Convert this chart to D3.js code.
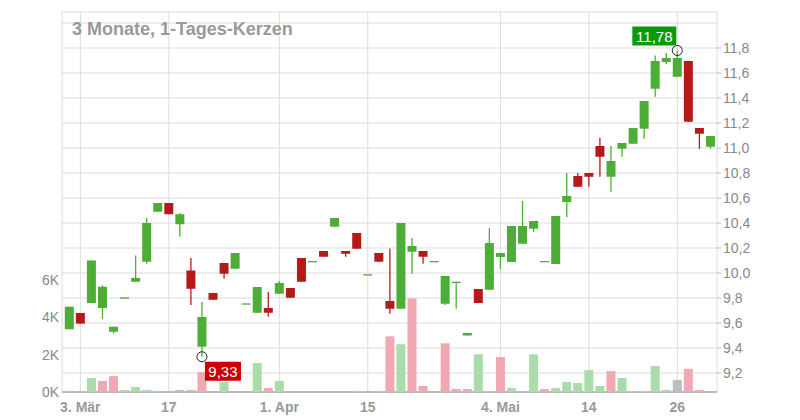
<!DOCTYPE html>
<html><head><meta charset="utf-8">
<script src="https://cdn.jsdelivr.net/npm/d3@7"></script>
<style>body{margin:0;background:#fff;font-family:"Liberation Sans",Arial,sans-serif}</style>
</head><body><div class="chart"></div>
<script>
// daily candles, index = trading day
var opens  = [9.55,9.68,9.76,9.72,9.53,9.805,9.93,10.09,10.49,10.56,10.39,10.02,9.41,9.84,10.08,10.034,9.757,9.682,9.72,9.834,9.88,10.12,10.096,10.176,10.37,10.176,10.32,9.99,10.16,
              9.776,9.714,10.17,10.176,10.096,9.754,9.92,9.50,9.872,9.866,10.128,10.088,10.234,10.354,10.096,10.072,10.568,10.776,10.8,11.016,10.77,10.994,11.034,11.154,11.474,11.688,11.57,11.696,11.16,11.01];
var closes = [9.73,9.595,10.10,9.89,9.57,9.805,9.96,10.40,10.56,10.47,10.47,9.874,9.648,9.786,9.994,10.16,9.757,9.888,9.682,9.92,9.802,9.93,10.096,10.13,10.44,10.154,10.194,9.99,10.09,
              9.714,10.40,10.216,10.13,10.096,9.976,9.93,9.52,9.76,10.24,10.16,10.376,10.376,10.416,10.096,10.456,10.616,10.69,10.77,10.93,10.896,11.04,11.16,11.376,11.696,11.72,11.72,11.21,11.114,11.096];
var highs  = [9.73,9.68,10.10,9.90,9.57,9.805,10.14,10.44,10.56,10.56,10.48,10.12,9.768,9.84,10.08,10.16,9.757,9.888,9.848,9.936,9.88,10.12,10.096,10.176,10.44,10.176,10.32,9.99,10.16,
              10.197,10.40,10.28,10.176,10.096,9.976,9.93,9.52,9.872,10.36,10.16,10.376,10.576,10.416,10.096,10.456,10.80,10.80,10.80,11.08,11.016,11.04,11.16,11.376,11.74,11.76,11.78,11.696,11.16,11.096];
var lows   = [9.55,9.595,9.76,9.63,9.515,9.805,9.93,10.074,10.49,10.47,10.29,9.744,9.33,9.786,9.954,10.034,9.757,9.682,9.65,9.834,9.802,9.93,10.096,10.13,10.37,10.13,10.194,9.99,10.09,
              9.674,9.714,9.994,10.074,10.096,9.744,9.714,9.50,9.76,9.866,10.032,10.088,10.234,10.328,10.096,10.072,10.448,10.69,10.69,10.77,10.65,10.93,11.034,11.074,11.41,11.67,11.57,11.21,10.994,10.994];
var volumes = [60,0,750,590,850,110,270,110,60,0,110,110,1070,0,530,0,0,1550,210,590,0,0,0,0,0,0,60,0,60,
               2980,2560,5010,320,0,2610,160,160,2020,50,1870,210,50,2020,160,210,540,480,1170,320,1120,750,50,50,1390,110,640,1240,110,0];
var prevCloseStart = 9.75;
var xTicks = [[1,"3. Mär"],[9,"17"],[19,"1. Apr"],[27,"15"],[39,"4. Mai"],[47,"14"],[55,"26"]];
var priceTicks = [9.2,9.4,9.6,9.8,10.0,10.2,10.4,10.6,10.8,11.0,11.2,11.4,11.6,11.8];
var volTicks = [0,2000,4000,6000];
var lowLabel = {i:12, v:9.33}, highLabel = {i:55, v:11.78};

var W = 800, H = 420, L = 62, R = 717, T = 12, B = 392;
var svg = d3.select(".chart").append("svg").attr("width", W).attr("height", H);

var x = d3.scaleLinear().domain([0, 55]).range([69.3, 677.3]);
var y = d3.scaleLinear().domain([9.2, 11.8]).range([373, 48]);
var yv = d3.scaleLinear().domain([0, 6000]).range([B, 280]);
var fmt = function (v) { return d3.format(".1f")(v).replace(".", ","); };

// grid
svg.append("g").selectAll("line").data(priceTicks.concat([12.0])).enter().append("line")
    .attr("x1", L).attr("x2", R).attr("y1", d => y(d)).attr("y2", d => y(d))
    .attr("stroke", "#dcdcdc");
svg.append("g").selectAll("line").data(xTicks).enter().append("line")
    .attr("x1", d => x(d[0])).attr("x2", d => x(d[0])).attr("y1", T).attr("y2", B)
    .attr("stroke", "#dcdcdc");
svg.append("rect").attr("x", L).attr("y", T).attr("width", R - L).attr("height", B - T)
    .attr("fill", "none").attr("stroke", "#dcdcdc");
svg.append("line").attr("x1", L).attr("x2", R).attr("y1", B).attr("y2", B).attr("stroke", "#bbb").attr("stroke-width", 2);

svg.append("text").attr("x", 72).attr("y", 35).text("3 Monate, 1-Tages-Kerzen")
    .attr("font-size", 18).attr("font-weight", "bold").attr("fill", "#999");

// volume
svg.append("g").selectAll("rect").data(volumes).enter().append("rect")
    .attr("x", (d, i) => x(i) - 4.5).attr("width", 9)
    .attr("y", d => yv(d)).attr("height", d => B - yv(d))
    .attr("fill", (d, i) => {
        var pc = i === 0 ? prevCloseStart : closes[i - 1];
        return closes[i] > pc ? "#a9dcaa" : closes[i] < pc ? "#f0a8b2" : "#bdbdbd";
    });

// candles
var cg = svg.append("g");
closes.forEach(function (c, i) {
    var o = opens[i], col = c >= o ? "#4cae36" : "#b51a1a";
    cg.append("line").attr("x1", x(i)).attr("x2", x(i)).attr("y1", y(highs[i])).attr("y2", y(lows[i]))
        .attr("stroke", col).attr("stroke-width", 1.3);
    var top = y(Math.max(o, c)), bot = y(Math.min(o, c));
    cg.append("rect").attr("x", x(i) - 4.5).attr("width", 9).attr("y", top).attr("height", Math.max(bot - top, 1.3))
        .attr("fill", col);
});

// axes labels
svg.append("g").selectAll("text").data(priceTicks).enter().append("text")
    .attr("x", 723).attr("y", d => y(d) + 5).text(fmt)
    .attr("font-size", 14).attr("fill", "#888");
svg.append("g").selectAll("line").data(priceTicks).enter().append("line")
    .attr("x1", R).attr("x2", R + 4).attr("y1", d => y(d)).attr("y2", d => y(d)).attr("stroke", "#bbb");
svg.append("g").selectAll("text").data(volTicks).enter().append("text")
    .attr("x", 59).attr("y", d => yv(d) + 5).attr("text-anchor", "end").text(d => (d / 1000) + "K")
    .attr("font-size", 14).attr("fill", "#888");
svg.append("g").selectAll("text").data(xTicks).enter().append("text")
    .attr("x", d => x(d[0])).attr("y", 412).attr("text-anchor", "middle").text(d => d[1])
    .attr("font-size", 14).attr("font-weight", "bold").attr("fill", "#999");

// high / low markers
function marker(m, dy, bg, anchorLeft) {
    var cx = x(m.i), cy = y(m.v);
    svg.append("circle").attr("cx", cx).attr("cy", cy).attr("r", 5).attr("fill", "none").attr("stroke", "#222");
    var w = m.v >= 10 ? 44 : 36, bx = anchorLeft ? cx + 3 : cx - w - 1, by = cy + dy;
    svg.append("rect").attr("x", bx).attr("y", by).attr("width", w).attr("height", 19).attr("fill", bg);
    svg.append("text").attr("x", bx + w / 2).attr("y", by + 15).attr("text-anchor", "middle")
        .text(fmt(m.v).replace(/,(\d)$/, ",$10").length ? d3.format(".2f")(m.v).replace(".", ",") : "")
        .attr("font-size", 15).attr("fill", "#fff");
}
marker(lowLabel, 5, "#cc0000", true);
marker(highLabel, -24, "#0c9a0c", false);
</script></body></html>
